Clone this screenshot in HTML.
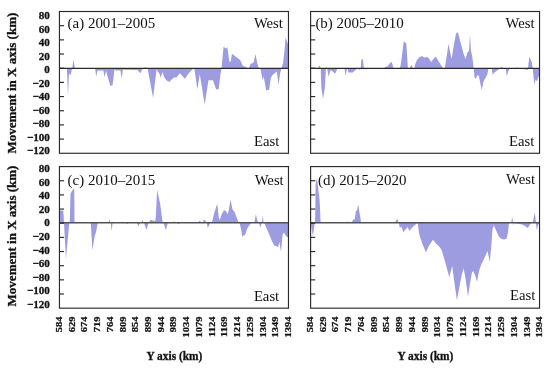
<!DOCTYPE html>
<html lang="en"><head><meta charset="utf-8"><title>Movement in X axis</title>
<style>
html,body{margin:0;padding:0;background:#fff;}
body{width:550px;height:370px;overflow:hidden;}
svg{display:block;}
text{font-family:"Liberation Serif","Times New Roman",serif;fill:#111;}
.b{font-weight:bold;}
.t{font-size:11.1px;font-weight:bold;}
.xt{font-size:10.5px;font-weight:bold;}
.t,.xt,.ax,.ay{stroke:#111;stroke-width:0.3px;}
.p{font-size:14.95px;}
.w{font-size:14.7px;}
.ax{font-size:11.4px;font-weight:bold;}
.ay{font-size:13px;font-weight:bold;}
</style></head><body>
<svg width="550" height="370" viewBox="0 0 550 370">
<rect width="550" height="370" fill="#fff"/>
<path d="M59.9,68.35 L66.9,68.35 L68,96.1 L69,73.4 L70.5,75.3 L72.2,68.35 L73.6,59.8 L74.9,68.35 L95.1,68.35 L96.2,76.7 L97.3,70.7 L103.3,70.5 L104.7,77.3 L106,70.7 L110.3,85.8 L112.5,85.5 L114.5,69.6 L116,70.4 L120.4,70.4 L121.7,78.5 L122.8,69.8 L137.3,69.9 L140.5,73.2 L142.7,68.35 L144,68.35 L145.2,67.1 L146.4,68.35 L147.6,68.35 L148.7,74.2 L153.1,98 L156.6,69.3 L158,72 L159.1,73.1 L160.9,77.8 L162.3,71.8 L164.5,77.8 L166.7,80.6 L169.4,82 L171.6,79.5 L174,77.6 L176.4,77.6 L179.9,73.3 L184.9,78.8 L188.4,73.6 L192.7,69.3 L194.4,68.5 L197.3,89.4 L199.8,74.2 L204.7,104.4 L208.5,80.2 L212.9,80.2 L216.2,89.4 L218.7,88.9 L220.4,75 L221.5,68.35 L222.6,56.8 L223.6,46.5 L225.5,48.6 L227.3,47.2 L229.3,61.2 L230.6,62 L232,53.8 L240.2,59.9 L242.6,65.5 L246.7,67.5 L248.9,68.35 L250.5,63.9 L253.8,62.3 L255.4,54.1 L257.1,62.3 L258.7,68.35 L260.4,68.35 L262.6,79.9 L263.7,76.6 L266.2,90.5 L269.2,89.8 L270.6,78.9 L272,75.6 L276.8,71.4 L278.5,85 L280.1,73.2 L281.5,68.35 L283.1,63 L284.8,47 L285.6,37.4 L287,41.4 L288.2,45 L288.2,68.35 Z" fill="#9e9ce0" stroke="none"/>
<line x1="59.45" y1="68.35" x2="288.47" y2="68.35" stroke="#2a2a2a" stroke-width="1.2"/>
<line x1="59.45" y1="25.68" x2="64.05" y2="25.68" stroke="#2a2a2a" stroke-width="1.15"/>
<line x1="59.45" y1="39.86" x2="64.05" y2="39.86" stroke="#2a2a2a" stroke-width="1.15"/>
<line x1="59.45" y1="54.03" x2="64.05" y2="54.03" stroke="#2a2a2a" stroke-width="1.15"/>
<line x1="59.45" y1="68.21" x2="64.05" y2="68.21" stroke="#2a2a2a" stroke-width="1.15"/>
<line x1="59.45" y1="82.39" x2="64.05" y2="82.39" stroke="#2a2a2a" stroke-width="1.15"/>
<line x1="59.45" y1="96.57" x2="64.05" y2="96.57" stroke="#2a2a2a" stroke-width="1.15"/>
<line x1="59.45" y1="110.75" x2="64.05" y2="110.75" stroke="#2a2a2a" stroke-width="1.15"/>
<line x1="59.45" y1="124.92" x2="64.05" y2="124.92" stroke="#2a2a2a" stroke-width="1.15"/>
<line x1="59.45" y1="139.10" x2="64.05" y2="139.10" stroke="#2a2a2a" stroke-width="1.15"/>
<rect x="59.45" y="11.5" width="229.02" height="141.78" fill="none" stroke="#2a2a2a" stroke-width="1.15"/>
<path d="M311,68.35 L317.8,68.35 L319.8,65.3 L320.7,68.35 L321.4,88 L323,99 L324.8,88 L326,68.35 L326.5,66.4 L327.1,68.35 L328.7,76.7 L330.4,70.2 L332.5,71.3 L334.7,73.4 L335.8,72.4 L337.4,68.5 L344.5,68.35 L345.6,76.2 L347,68.5 L347.5,67 L348.3,72.4 L352.7,72.4 L356,69.4 L359.3,68.5 L359.8,70.7 L360.7,68.35 L361.4,59.3 L362.9,59.3 L363.8,67.4 L365.3,68.35 L365.6,69.5 L366.3,69.4 L367,68.35 L372,68.35 L372.7,69.5 L373.4,68.35 L384.2,68.35 L385.3,66.8 L387.4,66.6 L389.6,63.6 L391.3,61.7 L392.6,64.4 L393.2,68.35 L400,68.35 L401.1,62.3 L403.8,41.3 L406.3,43.5 L407.9,67.7 L408.1,68.35 L409.8,68.35 L411.4,64.7 L412.5,67.2 L413.3,68.35 L413.6,69.5 L414.4,68.35 L415.3,63.9 L416.9,60.1 L419.1,57.6 L421.9,55.9 L424.7,57.8 L427,56.8 L429.2,58.7 L431.1,61.9 L433.6,58.7 L435.8,56.6 L438.1,60.6 L440.6,64.5 L443.2,68.35 L444.8,68.35 L446.4,58.1 L448.5,44.1 L450.2,52.4 L451.7,58.7 L454,44.1 L455.9,33.9 L457.2,32 L458.5,34.5 L461,44.1 L463.5,53.6 L465.5,59.1 L467.4,52.4 L469,51.1 L470,33.9 L470.9,50.5 L472.1,55.5 L473.1,63.2 L473.7,68.35 L474.6,78 L476,78.4 L477.5,75.1 L478.9,76.1 L481.7,90.3 L483.6,81.3 L485.5,78 L487.4,74.2 L488.3,69 L489,68.35 L491.7,68.35 L492.6,75.1 L494,72.8 L499.2,69 L500,68.35 L501.6,66.8 L503,68.35 L505.8,68.35 L506.8,76.6 L508.2,71.4 L509.6,68.35 L514,68.35 L514.9,69.5 L515.8,68.35 L516.3,68.35 L517.1,67.2 L518,68.35 L522,68.35 L524.4,69.2 L527.6,70 L528,68.35 L529.3,56.5 L530.9,60.5 L531.9,61.9 L532.7,68.35 L534.3,84.2 L535.7,79.5 L537,81.5 L538.4,76.8 L539,76 L539,68.35 Z" fill="#9e9ce0" stroke="none"/>
<line x1="310.6" y1="68.35" x2="539.53" y2="68.35" stroke="#2a2a2a" stroke-width="1.2"/>
<line x1="310.6" y1="25.68" x2="315.20000000000005" y2="25.68" stroke="#2a2a2a" stroke-width="1.15"/>
<line x1="310.6" y1="39.86" x2="315.20000000000005" y2="39.86" stroke="#2a2a2a" stroke-width="1.15"/>
<line x1="310.6" y1="54.03" x2="315.20000000000005" y2="54.03" stroke="#2a2a2a" stroke-width="1.15"/>
<line x1="310.6" y1="68.21" x2="315.20000000000005" y2="68.21" stroke="#2a2a2a" stroke-width="1.15"/>
<line x1="310.6" y1="82.39" x2="315.20000000000005" y2="82.39" stroke="#2a2a2a" stroke-width="1.15"/>
<line x1="310.6" y1="96.57" x2="315.20000000000005" y2="96.57" stroke="#2a2a2a" stroke-width="1.15"/>
<line x1="310.6" y1="110.75" x2="315.20000000000005" y2="110.75" stroke="#2a2a2a" stroke-width="1.15"/>
<line x1="310.6" y1="124.92" x2="315.20000000000005" y2="124.92" stroke="#2a2a2a" stroke-width="1.15"/>
<line x1="310.6" y1="139.10" x2="315.20000000000005" y2="139.10" stroke="#2a2a2a" stroke-width="1.15"/>
<rect x="310.6" y="11.5" width="228.93" height="141.78" fill="none" stroke="#2a2a2a" stroke-width="1.15"/>
<path d="M60,222.8 L60,210.8 L61,210.4 L63.3,210.4 L64,222.8 L65.9,259.1 L69.3,222.8 L69.8,222.8 L70.5,193.6 L73.4,188.8 L74.3,190 L74.5,222.8 L90.8,222.8 L92.4,250.3 L94.5,236.8 L96.2,231.4 L97.5,223.9 L98,222.8 L108.3,222.8 L109.4,219.2 L110.4,222.8 L110.8,222.8 L111.6,231.4 L112.6,222.8 L113.3,222.8 L114,221.8 L114.7,222.8 L126.4,222.8 L127.2,224.5 L128,222.8 L130.5,222.8 L131.3,222 L132,222.8 L136.7,222.8 L138.4,226.2 L140.1,222.8 L141.5,222.8 L142.5,219.7 L143.5,222.8 L143.9,222.8 L146.5,230 L148.4,222.8 L149,222.8 L150.3,219.7 L153,220.5 L155.1,221.3 L155.8,217.3 L157.1,190 L160,202.7 L162.4,220.5 L162.8,222.8 L163.4,222.8 L166,230 L167.8,222.8 L172.5,222.8 L174.1,221.3 L175.5,222.8 L177,222.8 L178.5,224.2 L180,222.8 L197.5,222.8 L199.7,220.8 L201.5,222.8 L203,222.8 L203.8,219.2 L206.2,221.6 L206.7,222.8 L207.8,228.1 L210.3,222.8 L211.9,222.8 L214.3,212.7 L217.2,203.8 L218.8,217.6 L219.7,220 L221.6,214.3 L224,210.3 L226,211.1 L227.6,214.3 L228.9,209.4 L230.5,199.4 L232.5,209.4 L234.6,211.9 L236.7,217.6 L238.6,222.8 L239.4,222.8 L241.1,228.9 L242.2,236.7 L245.1,234.6 L247.5,228.1 L250.8,223.2 L251.2,222.8 L254.3,222.8 L255.9,214.2 L257.3,220.6 L258.6,222.8 L258.8,222.8 L260.4,227.6 L261.7,222.8 L262,222.8 L262.8,215.4 L263.6,222.8 L264.1,222.8 L267.7,230.8 L271.7,240.5 L274.2,245.4 L276.6,246.2 L278.2,247 L279.4,242.1 L281,251.9 L282.6,234.8 L283.9,232.4 L286.3,236.5 L288,237.3 L288.2,222.8 Z" fill="#9e9ce0" stroke="none"/>
<line x1="59.45" y1="222.8" x2="288.47" y2="222.8" stroke="#525252" stroke-width="1.6"/>
<line x1="59.45" y1="180.74" x2="64.05" y2="180.74" stroke="#2a2a2a" stroke-width="1.15"/>
<line x1="59.45" y1="194.90" x2="64.05" y2="194.90" stroke="#2a2a2a" stroke-width="1.15"/>
<line x1="59.45" y1="209.06" x2="64.05" y2="209.06" stroke="#2a2a2a" stroke-width="1.15"/>
<line x1="59.45" y1="223.22" x2="64.05" y2="223.22" stroke="#2a2a2a" stroke-width="1.15"/>
<line x1="59.45" y1="237.38" x2="64.05" y2="237.38" stroke="#2a2a2a" stroke-width="1.15"/>
<line x1="59.45" y1="251.53" x2="64.05" y2="251.53" stroke="#2a2a2a" stroke-width="1.15"/>
<line x1="59.45" y1="265.69" x2="64.05" y2="265.69" stroke="#2a2a2a" stroke-width="1.15"/>
<line x1="59.45" y1="279.85" x2="64.05" y2="279.85" stroke="#2a2a2a" stroke-width="1.15"/>
<line x1="59.45" y1="294.01" x2="64.05" y2="294.01" stroke="#2a2a2a" stroke-width="1.15"/>
<rect x="59.45" y="166.58" width="229.02" height="141.59" fill="none" stroke="#2a2a2a" stroke-width="1.15"/>
<path d="M311.2,222.8 L311.2,226 L312.9,236.2 L314.8,222.8 L315.1,222.8 L315.6,185 L316.4,179.2 L317.3,180.5 L319.6,200 L320.2,212 L320.6,222.8 L346.5,222.8 L347.2,221.1 L348,222.8 L351.9,222.8 L352.9,219.8 L354.8,219.2 L355.8,210.9 L357,210.3 L358.3,204.5 L359.5,212.8 L360.5,218.5 L361,222.8 L394.9,222.8 L397.4,218.7 L398.5,222.8 L398.9,222.8 L399.7,227.8 L401.7,227 L403.3,232.4 L406.2,228.6 L407.8,227 L409.4,231.1 L412.7,227 L415.9,224.3 L417.2,222.8 L417.6,222.8 L419.2,234.3 L422.4,244 L426,252.5 L428.9,245.7 L433,239.8 L436.4,244.1 L439.3,246.5 L441.6,250.1 L444.5,259.6 L447.3,270 L449.3,277 L452.2,266.1 L453.8,278 L456.9,300.3 L459.7,285.5 L461.5,275.7 L463.6,268.2 L465.6,279 L468,296.5 L470,283.5 L471.9,272.8 L473.2,271 L475.1,274.9 L477,281.8 L479,271 L481.3,264.3 L484.1,258.8 L487.5,251 L489.8,262 L491.3,246 L492.6,228.5 L493.8,225.5 L495.7,229.6 L498.6,236 L501.1,238.8 L503.7,239.5 L506.6,238.8 L508.1,231.6 L509,222.8 L511.3,222.8 L512.2,216.7 L513,222.8 L513.4,225.5 L514,222.8 L516,223.5 L522.2,224.6 L525.7,226.4 L527.8,228.1 L530.1,224.6 L531.8,222.8 L532.7,222.8 L534.8,212.3 L535.9,222.8 L536.8,229.9 L538.3,224.6 L539,224 L539,222.8 Z" fill="#9e9ce0" stroke="none"/>
<line x1="310.6" y1="222.8" x2="539.53" y2="222.8" stroke="#525252" stroke-width="1.6"/>
<line x1="310.6" y1="180.74" x2="315.20000000000005" y2="180.74" stroke="#2a2a2a" stroke-width="1.15"/>
<line x1="310.6" y1="194.90" x2="315.20000000000005" y2="194.90" stroke="#2a2a2a" stroke-width="1.15"/>
<line x1="310.6" y1="209.06" x2="315.20000000000005" y2="209.06" stroke="#2a2a2a" stroke-width="1.15"/>
<line x1="310.6" y1="223.22" x2="315.20000000000005" y2="223.22" stroke="#2a2a2a" stroke-width="1.15"/>
<line x1="310.6" y1="237.38" x2="315.20000000000005" y2="237.38" stroke="#2a2a2a" stroke-width="1.15"/>
<line x1="310.6" y1="251.53" x2="315.20000000000005" y2="251.53" stroke="#2a2a2a" stroke-width="1.15"/>
<line x1="310.6" y1="265.69" x2="315.20000000000005" y2="265.69" stroke="#2a2a2a" stroke-width="1.15"/>
<line x1="310.6" y1="279.85" x2="315.20000000000005" y2="279.85" stroke="#2a2a2a" stroke-width="1.15"/>
<line x1="310.6" y1="294.01" x2="315.20000000000005" y2="294.01" stroke="#2a2a2a" stroke-width="1.15"/>
<rect x="310.6" y="166.58" width="228.93" height="141.59" fill="none" stroke="#2a2a2a" stroke-width="1.15"/>
<text class="t" x="49.9" y="19.1" text-anchor="end">80</text>
<text class="t" x="49.9" y="32.6" text-anchor="end">60</text>
<text class="t" x="49.9" y="46.1" text-anchor="end">40</text>
<text class="t" x="49.9" y="59.6" text-anchor="end">20</text>
<text class="t" x="49.9" y="73.1" text-anchor="end">0</text>
<text class="t" x="49.9" y="86.6" text-anchor="end">−20</text>
<text class="t" x="49.9" y="100.2" text-anchor="end">−40</text>
<text class="t" x="49.9" y="113.7" text-anchor="end">−60</text>
<text class="t" x="49.9" y="127.2" text-anchor="end">−80</text>
<text class="t" x="49.9" y="140.7" text-anchor="end">−100</text>
<text class="t" x="49.9" y="154.2" text-anchor="end">−120</text>
<text class="t" x="49.9" y="172.2" text-anchor="end">80</text>
<text class="t" x="49.9" y="185.8" text-anchor="end">60</text>
<text class="t" x="49.9" y="199.3" text-anchor="end">40</text>
<text class="t" x="49.9" y="212.9" text-anchor="end">20</text>
<text class="t" x="49.9" y="226.4" text-anchor="end">0</text>
<text class="t" x="49.9" y="240.0" text-anchor="end">−20</text>
<text class="t" x="49.9" y="253.6" text-anchor="end">−40</text>
<text class="t" x="49.9" y="267.1" text-anchor="end">−60</text>
<text class="t" x="49.9" y="280.6" text-anchor="end">−80</text>
<text class="t" x="49.9" y="294.2" text-anchor="end">−100</text>
<text class="t" x="49.9" y="307.8" text-anchor="end">−120</text>
<text class="xt" transform="translate(61.80,316.6) rotate(-90) scale(1,0.86)" text-anchor="end">584</text>
<text class="xt" transform="translate(74.54,316.6) rotate(-90) scale(1,0.86)" text-anchor="end">629</text>
<text class="xt" transform="translate(87.28,316.6) rotate(-90) scale(1,0.86)" text-anchor="end">674</text>
<text class="xt" transform="translate(100.02,316.6) rotate(-90) scale(1,0.86)" text-anchor="end">719</text>
<text class="xt" transform="translate(112.76,316.6) rotate(-90) scale(1,0.86)" text-anchor="end">764</text>
<text class="xt" transform="translate(125.50,316.6) rotate(-90) scale(1,0.86)" text-anchor="end">809</text>
<text class="xt" transform="translate(138.24,316.6) rotate(-90) scale(1,0.86)" text-anchor="end">854</text>
<text class="xt" transform="translate(150.98,316.6) rotate(-90) scale(1,0.86)" text-anchor="end">899</text>
<text class="xt" transform="translate(163.72,316.6) rotate(-90) scale(1,0.86)" text-anchor="end">944</text>
<text class="xt" transform="translate(176.46,316.6) rotate(-90) scale(1,0.86)" text-anchor="end">989</text>
<text class="xt" transform="translate(189.20,316.6) rotate(-90) scale(1,0.86)" text-anchor="end">1034</text>
<text class="xt" transform="translate(201.94,316.6) rotate(-90) scale(1,0.86)" text-anchor="end">1079</text>
<text class="xt" transform="translate(214.68,316.6) rotate(-90) scale(1,0.86)" text-anchor="end">1124</text>
<text class="xt" transform="translate(227.42,316.6) rotate(-90) scale(1,0.86)" text-anchor="end">1169</text>
<text class="xt" transform="translate(240.16,316.6) rotate(-90) scale(1,0.86)" text-anchor="end">1214</text>
<text class="xt" transform="translate(252.90,316.6) rotate(-90) scale(1,0.86)" text-anchor="end">1259</text>
<text class="xt" transform="translate(265.64,316.6) rotate(-90) scale(1,0.86)" text-anchor="end">1304</text>
<text class="xt" transform="translate(278.38,316.6) rotate(-90) scale(1,0.86)" text-anchor="end">1349</text>
<text class="xt" transform="translate(291.12,316.6) rotate(-90) scale(1,0.86)" text-anchor="end">1394</text>
<text class="xt" transform="translate(312.95,316.6) rotate(-90) scale(1,0.86)" text-anchor="end">584</text>
<text class="xt" transform="translate(325.69,316.6) rotate(-90) scale(1,0.86)" text-anchor="end">629</text>
<text class="xt" transform="translate(338.43,316.6) rotate(-90) scale(1,0.86)" text-anchor="end">674</text>
<text class="xt" transform="translate(351.17,316.6) rotate(-90) scale(1,0.86)" text-anchor="end">719</text>
<text class="xt" transform="translate(363.91,316.6) rotate(-90) scale(1,0.86)" text-anchor="end">764</text>
<text class="xt" transform="translate(376.65,316.6) rotate(-90) scale(1,0.86)" text-anchor="end">809</text>
<text class="xt" transform="translate(389.39,316.6) rotate(-90) scale(1,0.86)" text-anchor="end">854</text>
<text class="xt" transform="translate(402.13,316.6) rotate(-90) scale(1,0.86)" text-anchor="end">899</text>
<text class="xt" transform="translate(414.87,316.6) rotate(-90) scale(1,0.86)" text-anchor="end">944</text>
<text class="xt" transform="translate(427.61,316.6) rotate(-90) scale(1,0.86)" text-anchor="end">989</text>
<text class="xt" transform="translate(440.35,316.6) rotate(-90) scale(1,0.86)" text-anchor="end">1034</text>
<text class="xt" transform="translate(453.09,316.6) rotate(-90) scale(1,0.86)" text-anchor="end">1079</text>
<text class="xt" transform="translate(465.83,316.6) rotate(-90) scale(1,0.86)" text-anchor="end">1124</text>
<text class="xt" transform="translate(478.57,316.6) rotate(-90) scale(1,0.86)" text-anchor="end">1169</text>
<text class="xt" transform="translate(491.31,316.6) rotate(-90) scale(1,0.86)" text-anchor="end">1214</text>
<text class="xt" transform="translate(504.05,316.6) rotate(-90) scale(1,0.86)" text-anchor="end">1259</text>
<text class="xt" transform="translate(516.79,316.6) rotate(-90) scale(1,0.86)" text-anchor="end">1304</text>
<text class="xt" transform="translate(529.53,316.6) rotate(-90) scale(1,0.86)" text-anchor="end">1349</text>
<text class="xt" transform="translate(542.27,316.6) rotate(-90) scale(1,0.86)" text-anchor="end">1394</text>
<text class="ax" transform="translate(174.4,359.6) scale(1,1.08)" text-anchor="middle">Y axis (km)</text>
<text class="ax" transform="translate(425.4,359.6) scale(1,1.08)" text-anchor="middle">Y axis (km)</text>
<text class="ay" transform="translate(16.2,83.1) rotate(-90)" text-anchor="middle">Movement in X axis (km)</text>
<text class="ay" transform="translate(16.2,236.0) rotate(-90)" text-anchor="middle">Movement in X axis (km)</text>
<text class="p" x="67.6" y="28.3">(a) 2001–2005</text>
<text class="p" x="315.4" y="28.3">(b) 2005–2010</text>
<text class="p" x="67.6" y="185.4">(c) 2010–2015</text>
<text class="p" x="318" y="185.4">(d) 2015–2020</text>
<text class="w" x="282.9" y="28.1" text-anchor="end">West</text>
<text class="w" x="534.6" y="28.1" text-anchor="end">West</text>
<text class="w" x="283.7" y="184.8" text-anchor="end">West</text>
<text class="w" x="535" y="184.4" text-anchor="end">West</text>
<text class="w" x="279.3" y="145.8" text-anchor="end">East</text>
<text class="w" x="534.4" y="146" text-anchor="end">East</text>
<text class="w" x="279.2" y="300.6" text-anchor="end">East</text>
<text class="w" x="535.3" y="300" text-anchor="end">East</text>
</svg></body></html>
